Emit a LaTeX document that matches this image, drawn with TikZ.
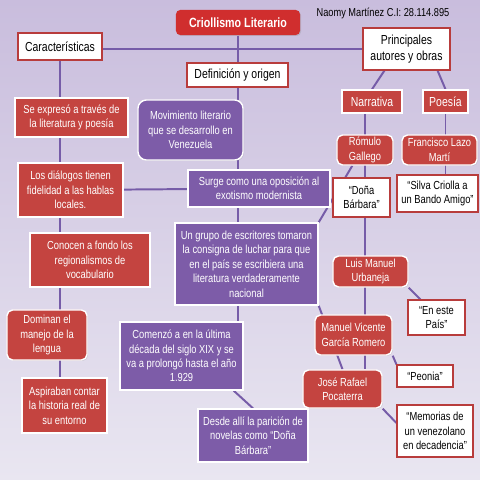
\documentclass[tikz,border=0pt]{standalone}
\usepackage{fontspec}
\setmainfont{Liberation Sans}[FakeStretch=0.8]
\usetikzlibrary{positioning,shadows}
\definecolor{crred}{RGB}{196,68,64}
\definecolor{crtitle}{RGB}{208,46,46}
\definecolor{crpurple}{RGB}{125,92,168}
\definecolor{crline}{RGB}{118,92,168}
\definecolor{crframe}{RGB}{184,60,60}
\definecolor{crbgtop}{RGB}{201,189,221}
\definecolor{crbgbot}{RGB}{233,230,241}
\pgfdeclarelayer{bg}
\pgfdeclarelayer{links}
\pgfsetlayers{bg,links,main}

\begin{document}
\begin{tikzpicture}[
    x=0.025cm, y=-0.025cm,
    box/.style={
        rectangle,
        align=center,
        inner sep=1pt,
        font=\fontsize{8.3}{10.3}\selectfont
    },
    redbox/.style={
        box, fill=crred, draw=white, line width=1pt, text=white,
        drop shadow={opacity=0.25, shadow xshift=0.7pt, shadow yshift=-0.7pt}
    },
    purplebox/.style={
        box, fill=crpurple, draw=white, line width=1pt, text=white,
        drop shadow={opacity=0.25, shadow xshift=0.7pt, shadow yshift=-0.7pt}
    },
    whitebox/.style={box, fill=white, draw=crframe, line width=0.8pt, text=black},
    headbox/.style={whitebox, font=\fontsize{9.3}{11.3}\selectfont},
    link/.style={draw=crline, line width=1.4pt}
]
\begin{pgfonlayer}{bg}
\shade[top color=crbgtop, bottom color=crbgbot] (0,0) rectangle (480,480);
\end{pgfonlayer}

% cabecera
\node[redbox, fill=crtitle, draw=none, rounded corners=3pt, minimum width=3.1cm, minimum height=0.625cm,
    font={\fontsize{9.5}{11}\selectfont\bfseries}] (title) at (238,22.5) {Criollismo Literario};
\node[font=\fontsize{8.2}{10}\selectfont] (autor) at (383,13) {Naomy Martínez C.I: 28.114.895};
\node[headbox, minimum width=2.1cm, minimum height=0.675cm] (caract) at (60,46.5) {Características};
\node[headbox, minimum width=2.525cm, minimum height=0.6cm] (defin) at (237.5,75) {Definición y origen};
\node[headbox, minimum width=2.175cm, minimum height=1.05cm] (princ) at (406.5,49) {Principales\\autores y obras};

% caracteristicas
\node[redbox, minimum width=2.825cm, minimum height=0.975cm] (expreso) at (71.5,117.5) {Se expresó a través de\\la literatura y poesía};
\node[redbox, minimum width=2.625cm, minimum height=1.35cm] (dialogos) at (70.5,190) {Los diálogos tienen\\fidelidad a las hablas\\locales.};
\node[redbox, minimum width=3cm, minimum height=1.35cm] (conocen) at (90,260) {Conocen a fondo los\\regionalismos de\\vocabulario};
\node[redbox, rounded corners=4pt, minimum width=2cm, minimum height=1.25cm] (dominan) at (47,335) {Dominan el\\manejo de la\\lengua};
\node[redbox, minimum width=2.125cm, minimum height=1.375cm] (aspiraban) at (64.5,405.5) {Aspiraban contar\\la historia real de\\su entorno};

% definicion y origen
\node[purplebox, rounded corners=6pt, minimum width=2.625cm, minimum height=1.5cm] (movim) at (190.5,130) {Movimiento literario\\que se desarrollo en\\Venezuela};
\node[purplebox, minimum width=3.55cm, minimum height=0.925cm] (surge) at (259,188.5) {Surge como una oposición al\\exotismo modernista};
\node[purplebox, minimum width=3.575cm, minimum height=2.05cm] (grupo) at (246.5,264) {Un grupo de escritores tomaron\\la consigna de luchar para que\\en el país se escribiera una\\literatura verdaderamente\\nacional};
\node[purplebox, minimum width=3.075cm, minimum height=1.7cm] (comenzo) at (181.5,356) {Comenzó a en la última\\década del siglo XIX y se\\va a prolongó hasta el año\\1.929};
\node[purplebox, minimum width=2.75cm, minimum height=1.325cm] (desde) at (253,435.5) {Desde allí la parición de\\novelas como “Doña\\Bárbara”};

% autores y obras
\node[redbox, font=\fontsize{9.3}{11.3}\selectfont, minimum width=1.5cm, minimum height=0.575cm] (narr) at (372,101.5) {Narrativa};
\node[redbox, font=\fontsize{9.3}{11.3}\selectfont, minimum width=1.125cm, minimum height=0.575cm] (poes) at (445.5,101.5) {Poesía};
\node[redbox, rounded corners=4pt, minimum width=1.4cm, minimum height=0.75cm] (romulo) at (365,150) {Rómulo\\Gallego};
\node[redbox, rounded corners=4pt, minimum width=1.875cm, minimum height=0.75cm] (franc) at (439.5,150) {Francisco Lazo\\Martí};
\node[whitebox, minimum width=1.425cm, minimum height=0.975cm] (dona) at (361.5,197.5) {“Doña\\Bárbara”};
\node[whitebox, minimum width=2.025cm, minimum height=0.925cm] (silva) at (437.5,193.5) {“Silva Criolla a\\un Bando Amigo”};
\node[redbox, rounded corners=4pt, minimum width=1.875cm, minimum height=0.775cm] (luis) at (370.5,271.5) {Luis Manuel\\Urbaneja};
\node[whitebox, minimum width=1.425cm, minimum height=0.875cm] (enEste) at (436.5,317.5) {“En este\\País”};
\node[redbox, rounded corners=4pt, minimum width=1.925cm, minimum height=1cm] (manuel) at (353.5,335) {Manuel Vicente\\García Romero};
\node[whitebox, minimum width=1.4cm, minimum height=0.55cm] (peonia) at (425,376) {“Peonia”};
\node[redbox, rounded corners=4pt, minimum width=1.975cm, minimum height=0.95cm] (jose) at (342.5,389) {José Rafael\\Pocaterra};
\node[whitebox, minimum width=1.9cm, minimum height=1.3cm] (memorias) at (435,431) {“Memorias de\\un venezolano\\en decadencia”};

% conectores
\begin{pgfonlayer}{links}
\draw[link] (caract.east |- princ.west) -- (princ.west);
\draw[link] (title.south) -- (title.south |- comenzo.north);
\draw[link] (dialogos) -- (surge);
\draw[link] ([xshift=-0.25cm]comenzo.south east) -- (desde.north);
\draw[link] (caract.south) -- (caract.south |- aspiraban.north);
\draw[link] ([xshift=0.55cm]princ.south west) -- (narr.north);
\draw[link] ([xshift=-0.325cm]princ.south east) -- (poes.north);
\draw[link] (poes.south) -- (poes.south |- silva.north);
\draw[link] (narr.south -| romulo) -- (romulo |- jose.north);
\draw[link] ([xshift=0.4cm]romulo.south west) -- (grupo.north east);
\draw[link] (grupo.south east) -- (jose.north);
\draw[link] (luis.south east) -- ([xshift=-0.4cm]enEste.north);
\draw[link] (manuel.south east) -- (peonia.north west);
\draw[link] (jose.south east) -- ([yshift=0.2cm]memorias.west);
\end{pgfonlayer}
\end{tikzpicture}
\end{document}
